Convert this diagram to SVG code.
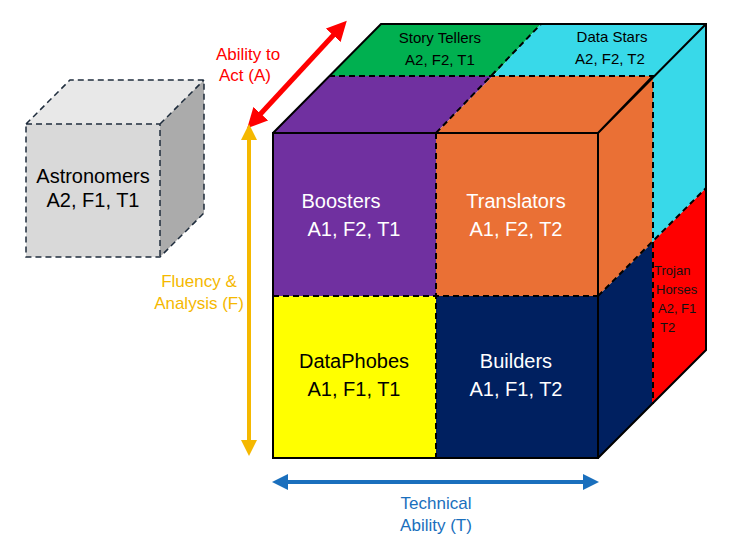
<svg xmlns="http://www.w3.org/2000/svg" width="743" height="557" viewBox="0 0 743 557">
<style>
text{font-family:"Liberation Sans",Arial,sans-serif;text-anchor:middle}
.big{font-size:20px;fill:#000}
.w{fill:#fff}
.sm{font-size:15px;fill:#000}
.ln{stroke:#000;stroke-width:2;fill:none}
.ds{stroke:#000;stroke-width:2;fill:none;stroke-dasharray:6 4}
</style>
<defs>
<marker id="ar" viewBox="0 0 10 10" refX="5" refY="5" markerWidth="4" markerHeight="4" orient="auto-start-reverse"><path d="M0,0L10,5L0,10z" fill="context-stroke"/></marker>
<marker id="rr" viewBox="0 0 10 10" refX="5" refY="5" markerWidth="4" markerHeight="4" orient="auto-start-reverse"><path d="M0,0L10,5L0,10z" fill="#f00"/></marker>
<marker id="oo" viewBox="0 0 10 10" refX="5" refY="5" markerWidth="4" markerHeight="4" orient="auto-start-reverse"><path d="M0,0L10,5L0,10z" fill="#f5b800"/></marker>
<marker id="bb" viewBox="0 0 10 10" refX="5" refY="5" markerWidth="4" markerHeight="4" orient="auto-start-reverse"><path d="M0,0L10,5L0,10z" fill="#1a6fbd"/></marker>
</defs>
<rect width="743" height="557" fill="#fff"/>
<g id="astronomers">
<polygon points="26,124 70,80 204,80 160,124" fill="#e8e8e8"/>
<polygon points="160,124 204,80 204,213 160,257" fill="#ababab"/>
<rect x="26" y="124" width="134" height="133" fill="#d9d9d9"/>
<path d="M26,124L70,80H204V213L160,257H26Z M26,124H160V257 M160,124L204,80" fill="none" stroke="#1f2d3d" stroke-width="1.5" stroke-dasharray="6 4"/>
<text class="big" x="93" y="183" font-size="19">Astronomers</text>
<text class="big" x="93" y="207" font-size="19">A2, F1, T1</text>
</g>
<g id="storytellers">
<polygon points="381,24 541,24 493,76 329,76" fill="#00b050"/>
<text class="sm" x="440" y="43">Story Tellers</text>
<text class="sm" x="440" y="65">A2, F2, T1</text>
</g>
<g id="datastars">
<polygon points="541,24 706,24 706,188 652,243 652,76 493,76" fill="#38d9e9"/>
<text class="sm" x="612" y="42">Data Stars</text>
<text class="sm" x="610" y="64">A2, F2, T2</text>
</g>
<g id="trojanhorses">
<polygon points="652,243 706,188 706,350 652,404" fill="#f00"/>
<text x="654" y="275" font-size="13" style="text-anchor:start" fill="#111">Trojan</text>
<text x="656" y="294" font-size="13" style="text-anchor:start" fill="#111">Horses</text>
<text x="658" y="313" font-size="13" style="text-anchor:start" fill="#111">A2, F1</text>
<text x="660" y="332" font-size="13" style="text-anchor:start" fill="#111">T2</text>
</g>
<g id="boosters">
<polygon points="273,133 329,76 493,76 436,133" fill="#7030a0"/>
<rect x="273" y="133" width="163" height="163" fill="#7030a0"/>
<text class="big w" x="341" y="208">Boosters</text>
<text class="big w" x="354" y="236">A1, F2, T1</text>
</g>
<g id="translators">
<polygon points="436,133 493,76 653,76 598,133" fill="#ea7035"/>
<polygon points="598,133 653,76 652,243 598,296" fill="#ea7035"/>
<rect x="436" y="133" width="162" height="163" fill="#ea7035"/>
<text class="big w" x="516" y="208">Translators</text>
<text class="big w" x="516" y="236">A1, F2, T2</text>
</g>
<g id="dataphobes">
<rect x="273" y="296" width="163" height="162" fill="#ffff00"/>
<text class="big" x="354" y="368">DataPhobes</text>
<text class="big" x="354" y="396">A1, F1, T1</text>
</g>
<g id="builders">
<rect x="436" y="296" width="162" height="162" fill="#002060"/>
<polygon points="598,296 652,243 652,404 598,458" fill="#002060"/>
<text class="big w" x="516" y="368">Builders</text>
<text class="big w" x="516" y="396">A1, F1, T2</text>
</g>
<g id="edges">
<rect x="273" y="133" width="325" height="325" class="ln"/>
<path class="ln" d="M273,133L381,24H706V350L598,458 M598,133L706,24 M598,133L653,76"/>
<path class="ds" d="M329,76H653V404 M598,296L706,188 M436,133L541,24 M436,133V458 M273,296H598"/>
</g>
<g id="connectors">
<line x1="254" y1="121" x2="340" y2="28" stroke="#f00" stroke-width="5" marker-start="url(#rr)" marker-end="url(#rr)"/>
<line x1="249" y1="132" x2="249" y2="448" stroke="#f5b800" stroke-width="4" marker-start="url(#oo)" marker-end="url(#oo)"/>
<line x1="280" y1="482" x2="591" y2="482" stroke="#1a6fbd" stroke-width="4" marker-start="url(#bb)" marker-end="url(#bb)"/>
</g>
<g id="labels">
<text x="248" y="60" font-size="17" fill="#f00">Ability to</text>
<text x="245" y="81" font-size="17" fill="#f00">Act (A)</text>
<text x="199" y="287" font-size="17" fill="#f5b800">Fluency &amp;</text>
<text x="199" y="309" font-size="17" fill="#f5b800">Analysis (F)</text>
<text x="436" y="509" font-size="17" fill="#1a6fbd">Technical</text>
<text x="436" y="531" font-size="17" fill="#1a6fbd">Ability (T)</text>
</g>
</svg>
